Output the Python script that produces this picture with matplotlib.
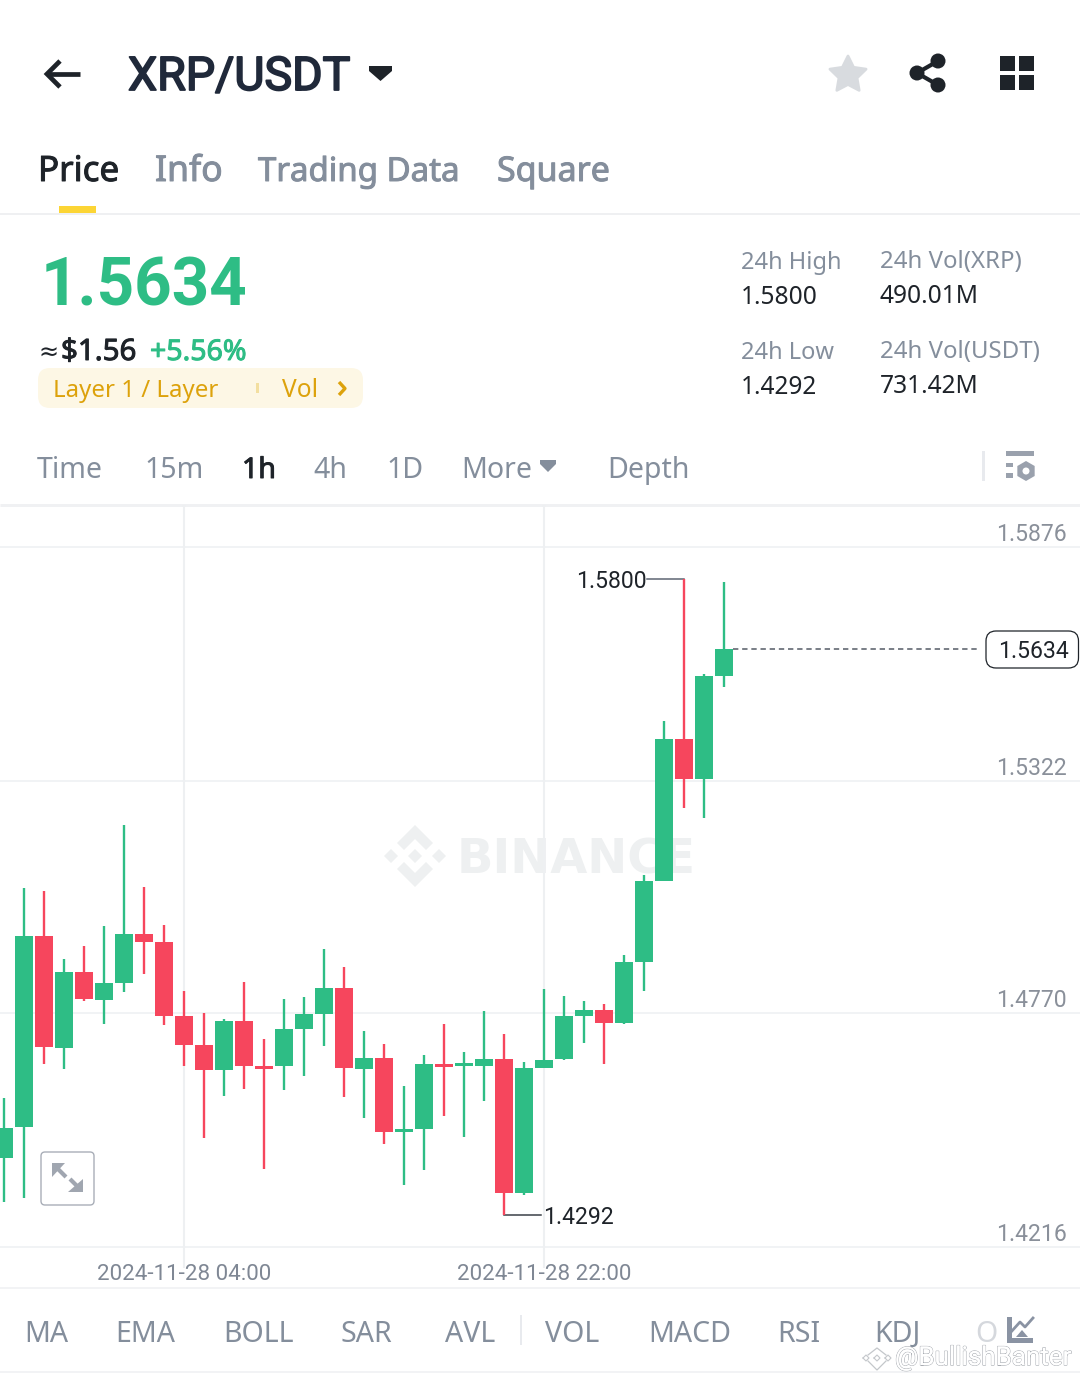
import numpy as np
import matplotlib
matplotlib.use('Agg')
import matplotlib.pyplot as plt
from matplotlib.patches import FancyBboxPatch, Polygon, Circle, Rectangle, RegularPolygon
import matplotlib.patheffects as pe

# candles (1h XRP/USDT)
highs = [1.4570, 1.5068, 1.5060, 1.4899, 1.4930, 1.4977, 1.5217, 1.5070, 1.4980, 1.4823,
         1.4771, 1.4757, 1.4845, 1.4710, 1.4804, 1.4809, 1.4923, 1.4879, 1.4728, 1.4698,
         1.4597, 1.4672, 1.4746, 1.4678, 1.4776, 1.4721, 1.4655, 1.4828, 1.4811, 1.4800,
         1.4792, 1.4908, 1.5098, 1.5464, 1.5800, 1.5575, 1.5793]
lows = [1.4323, 1.4332, 1.4650, 1.4638, 1.4800, 1.4745, 1.4821, 1.4864, 1.4743, 1.4646,
        1.4475, 1.4575, 1.4591, 1.4400, 1.4589, 1.4622, 1.4693, 1.4572, 1.4523, 1.4460,
        1.4363, 1.4399, 1.4526, 1.4476, 1.4563, 1.4292, 1.4340, 1.4641, 1.4660, 1.4700,
        1.4650, 1.4746, 1.4823, 1.5083, 1.5257, 1.5233, 1.5544]
opens = [1.4427, 1.4501, 1.4954, 1.4689, 1.4868, 1.4802, 1.4843, 1.4959, 1.4939, 1.4763,
         1.4695, 1.4636, 1.4752, 1.4645, 1.4645, 1.4732, 1.4769, 1.4831, 1.4639, 1.4664,
         1.4489, 1.4496, 1.4649, 1.4645, 1.4646, 1.4662, 1.4343, 1.4641, 1.4662, 1.4765,
         1.4778, 1.4748, 1.4891, 1.5083, 1.5420, 1.5325, 1.5571]
closes = [1.4498, 1.4954, 1.4691, 1.4868, 1.4803, 1.4842, 1.4959, 1.4939, 1.4764, 1.4696,
          1.4636, 1.4752, 1.4646, 1.4639, 1.4732, 1.4769, 1.4831, 1.4640, 1.4664, 1.4488,
          1.4497, 1.4649, 1.4642, 1.4652, 1.4662, 1.4343, 1.4641, 1.4660, 1.4763, 1.4778,
          1.4748, 1.4891, 1.5083, 1.5420, 1.5325, 1.5571, 1.5634]
price_ticks = [1.5876, 1.5322, 1.4770, 1.4216]
time_idx = [9, 27]
time_labels = ['2024-11-28 04:00', '2024-11-28 22:00']
last_price = 1.5634

tabs = ['Price', 'Info', 'Trading Data', 'Square']
tab_x = [38, 155, 258, 497]
tab_px = [35, 35.5, 33, 34]
periods = ['Time', '15m', '1h', '4h', '1D', 'More', 'Depth']
period_x = [37, 144, 242, 313, 386, 461, 607]
indicators = ['MA', 'EMA', 'BOLL', 'SAR', 'AVL', 'VOL', 'MACD', 'RSI', 'KDJ', 'O']
indicator_x = [24, 115, 223, 341, 445, 545, 648, 777, 874, 975]

GREEN = '#2EBD85'
RED = '#F6465D'
DARK = '#1E2329'
GREY = '#848E9C'
LINE = '#EEF0F2'
UIFONT = 'Noto Sans'
NUMFONT = 'Roboto'

fig = plt.figure(figsize=(10.8, 13.79), dpi=100, facecolor='white')

# screen layer in pixels
ui = fig.add_axes([0, 0, 1, 1], zorder=0)
ui.set_xlim(0, 1080)
ui.set_ylim(1379, 0)
ui.axis('off')


def txt(x, y, s, px, color=DARK, weight='normal', ha='left', font=UIFONT, thick=0, **kw):
    t = ui.text(x, y, s, fontsize=px * 0.72, color=color, fontweight=weight, ha=ha,
                va='baseline', family=font, **kw)
    if thick:
        # no medium cut installed, fatten the regular one a bit
        t.set_path_effects([pe.withStroke(linewidth=thick, foreground=color)])
    return t


def hline(y, color=LINE, lw=1.5, x0=0, x1=1080):
    ui.plot([x0, x1], [y, y], color=color, lw=lw * 0.72, solid_capstyle='butt')


# header
ui.plot([80, 49], [74, 74], color=DARK, lw=3.4, solid_capstyle='butt')
ui.plot([60, 47, 60], [61, 74, 87], color=DARK, lw=3.4, solid_joinstyle='miter', solid_capstyle='butt')
txt(128, 90, 'XRP/USDT', 46.5, font='Roboto', color='#20293A', thick=1.3)
ui.add_patch(Polygon([(369, 66), (392, 66), (392, 71), (380.5, 81), (369, 71)], color=DARK, lw=0))

ang = np.linspace(np.pi / 2, np.pi / 2 + 2 * np.pi, 11)[:-1]
rad = np.array([19, 9.5] * 5)
ui.add_patch(Polygon(np.c_[848 + rad * np.cos(ang), 75 - rad * np.sin(ang)], facecolor='#D8DBDF',
                     edgecolor='#D8DBDF', lw=2, joinstyle='round'))
ui.plot([938, 917, 938], [61, 73, 85], color=DARK, lw=3)
for cx, cy in [(938, 61), (917, 73), (938, 85)]:
    ui.add_patch(Circle((cx, cy), 7.5, color=DARK, lw=0))
for rx, ry in [(1000, 56), (1019, 56), (1000, 75), (1019, 75)]:
    ui.add_patch(Rectangle((rx, ry), 15, 15, color=DARK, lw=0))

# tabs
for i, (s, x, sz) in enumerate(zip(tabs, tab_x, tab_px)):
    txt(x, 181, s, sz, color=DARK if i == 0 else '#848E9C', thick=0.7)
ui.add_patch(Rectangle((59, 206), 37, 7, color='#FCD535', lw=0))
hline(213.5, '#EAECEF')

# price block
txt(41, 306, '1.5634', 65.5, color=GREEN, weight='bold', font='Roboto')
txt(38, 360, '≈', 24, font='DejaVu Sans')
txt(61, 360, '$1.56', 29.5, thick=0.7)
txt(150, 360, '+5.56%', 28.5, color=GREEN, thick=0.7)
ui.add_patch(FancyBboxPatch((38, 368), 325, 40, boxstyle='round,pad=0,rounding_size=12',
                            fc='#FDF7E5', ec='none', lw=0))
txt(53, 397, 'Layer 1 / Layer', 24, color='#DDA20B')
ui.add_patch(Rectangle((256, 383), 3, 10, color='#F3DFA0', lw=0))
txt(282, 397, 'Vol', 24.5, color='#DDA20B')
ui.plot([339, 345, 339], [382, 388.5, 395], color='#DDA20B', lw=2.4, solid_capstyle='butt')

# 24h stats
txt(741, 269, '24h High', 23.7, color=GREY)
txt(741, 304, '1.5800', 24.5)
txt(880, 268, '24h Vol(XRP)', 24, color=GREY)
txt(880, 303, '490.01M', 24.5)
txt(741, 359, '24h Low', 23.7, color=GREY)
txt(741, 394, '1.4292', 24.5)
txt(880, 358, '24h Vol(USDT)', 24, color=GREY)
txt(880, 393, '731.42M', 24.5)

# period row
for s, x in zip(periods, period_x):
    txt(x, 478, s, 28.5, color=DARK if s == '1h' else GREY, thick=0.7 if s == '1h' else 0)
ui.add_patch(Polygon([(540, 460), (556, 460), (556, 464), (548, 472), (540, 464)], color=GREY, lw=0))
ui.add_patch(Rectangle((982, 451), 3, 30, color='#E8EAEE', lw=0))
ui.add_patch(Rectangle((1006, 451), 28, 5, color='#9AA1AD', lw=0))
ui.add_patch(Rectangle((1006, 463), 7, 4, color='#9AA1AD', lw=0))
ui.add_patch(Rectangle((1006, 473), 7, 5, color='#9AA1AD', lw=0))
ui.add_patch(RegularPolygon((1026, 471), 6, radius=10, color='#9AA1AD', lw=0))
ui.add_patch(Circle((1026, 471), 3.5, color='white', lw=0))

hline(504.5, '#F0F1F3', 3)
hline(1287.5, '#EEF0F2')
hline(1371.5, '#EEF0F2')

# BINANCE watermark
WM = '#EEF0F1'
for yy in [1, -1]:
    pts = [(415, 825), (433, 843), (426, 850), (415, 839), (404, 850), (397, 843)]
    ui.add_patch(Polygon([(px, 856 + yy * (py - 856)) for px, py in pts], color=WM, lw=0))
for cx in [391, 415, 439]:
    ui.add_patch(Polygon([(cx - 7, 856), (cx, 849), (cx + 7, 856), (cx, 863)], color=WM, lw=0))
ui.text(457, 873, 'BINANCE', fontsize=34.5, color=WM, fontweight='bold', family='DejaVu Sans', va='baseline')

# expand button
ui.add_patch(FancyBboxPatch((41, 1152), 53, 53, boxstyle='round,pad=0,rounding_size=4', fc='white', ec='#A9AEB8', lw=1))
ui.add_patch(Polygon([(52, 1163), (65, 1163), (52, 1177)], color='#A0A6B0', lw=0))
ui.add_patch(Polygon([(83, 1192), (68, 1192), (83, 1179)], color='#A0A6B0', lw=0))
ui.plot([57, 66], [1168, 1177], color='#A0A6B0', lw=3, solid_capstyle='butt')
ui.plot([78, 70], [1187, 1179], color='#A0A6B0', lw=3, solid_capstyle='butt')

# indicator row
ind_cols = ['#848E9C'] * 9 + ['#D5D8DD']
for s, x, c in zip(indicators, indicator_x, ind_cols):
    txt(x, 1342, s, 28.5, color=c)
ui.add_patch(Rectangle((520, 1315), 1.5, 30, color='#E8EAEE', lw=0))
ui.add_patch(Rectangle((1007, 1317), 5, 26, color='#8A93A3', lw=0))
ui.add_patch(Rectangle((1007, 1338), 26, 5, color='#8A93A3', lw=0))
ui.plot([1011, 1020, 1025, 1033], [1332, 1322, 1327, 1318], color='#8A93A3', lw=2)
ui.add_patch(Polygon([(1016, 1337), (1022, 1330), (1028, 1337)], color='#8A93A3', lw=0))

# @BullishBanter stamp
t = txt(895, 1365, '@BullishBanter', 26, color='white', font='Roboto')
t.set_path_effects([pe.withStroke(linewidth=0.9, foreground='#A8ACB2'), pe.Normal()])
ui.plot([868, 877, 886], [1355, 1348, 1355], color='#C4C7CB', lw=0.9)
ui.plot([868, 877, 886], [1361, 1370, 1361], color='#C4C7CB', lw=0.9)
for cx in [866, 877, 888]:
    ui.plot([cx - 3, cx, cx + 3, cx, cx - 3], [1358, 1355, 1358, 1361, 1358], color='#C4C7CB', lw=0.8)

# candle chart, over the screen layer
ax = fig.add_axes([0, (1379 - 1287) / 1379, 1, (1287 - 505) / 1379], zorder=1)
ax.patch.set_alpha(0)
ax.set_xlim(-0.2, 53.8)
ax.set_ylim(1.41212, 1.59756)
ax.axis('off')

for p in price_ticks:
    ax.axhline(p, color=LINE, lw=1.1, zorder=1)
    ax.annotate(f'{p:.4f}', (1, p), xycoords=('axes fraction', 'data'), xytext=(-13, 1),
                textcoords='offset pixels', ha='right', va='bottom', fontsize=16.6, color='#8A909A', family=NUMFONT)
for i, lab in zip(time_idx, time_labels):
    ax.vlines(i, price_ticks[-1], ax.get_ylim()[1], color=LINE, lw=1.5, zorder=1)
    ax.vlines(i, ax.get_ylim()[0] + 0.0045, price_ticks[-1], color=LINE, lw=1.5, zorder=1)
    ax.annotate(lab, (i, 0), xycoords=('data', 'axes fraction'), xytext=(0, 13),
                textcoords='offset pixels', ha='center', va='center', fontsize=16.1, color='#7F8794', family=NUMFONT)

x = np.arange(len(closes))
o = np.array(opens)
c = np.array(closes)
cols = [GREEN if cc >= oo else RED for oo, cc in zip(o, c)]
ax.vlines(x, lows, highs, colors=cols, lw=1.7, zorder=3)
ax.bar(x, np.abs(c - o), bottom=np.minimum(o, c), width=0.88, color=cols, lw=0, zorder=4)

# high / low callouts
hi = int(np.argmax(highs))
lo = int(np.argmin(lows))
ax.plot([hi - 1.85, hi], [highs[hi], highs[hi]], color='#5E6673', lw=1.1, zorder=2)
ax.plot([lo, lo + 1.85], [lows[lo], lows[lo]], color='#3A4048', lw=1.1, zorder=2)
ax.text(hi - 1.85, highs[hi], f'{highs[hi]:.4f}', ha='right', va='center_baseline', fontsize=16.6, color=DARK,
        family=NUMFONT)
ax.text(lo + 1.95, lows[lo], f'{lows[lo]:.4f}', ha='left', va='center_baseline', fontsize=16.6, color=DARK,
        family=NUMFONT)

# last price
ax.plot([len(c) - 0.55, 48.8], [last_price, last_price], color='#555B66', lw=1.1, ls=(0, (3.5, 2.5)), zorder=2)
ax.text(51.45, last_price, f'{last_price:.4f}', ha='center', va='center_baseline', fontsize=16.6, color=DARK,
        family=NUMFONT, zorder=6)
ui.add_patch(FancyBboxPatch((986, 631), 92.5, 37, boxstyle='round,pad=0,rounding_size=10', fc='white', ec=DARK, lw=0.9))

fig.savefig('out.png', dpi=100)
